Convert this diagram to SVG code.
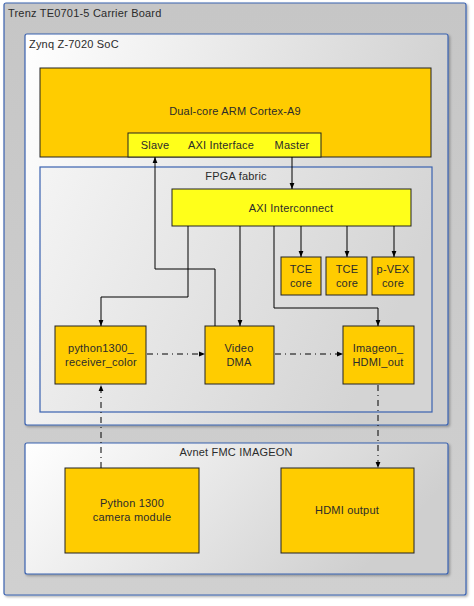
<svg xmlns="http://www.w3.org/2000/svg" width="474" height="606" viewBox="0 0 474 606">
<defs>
<linearGradient id="gBoard" x1="0" y1="0" x2="0" y2="1">
<stop offset="0" stop-color="#c6c6c6"/><stop offset="1" stop-color="#d0d0d0"/>
</linearGradient>
<linearGradient id="gInner" x1="0" y1="0" x2="1" y2="0.3">
<stop offset="0" stop-color="#ffffff"/><stop offset="1" stop-color="#cfcfcf"/>
</linearGradient>
<linearGradient id="gFpga" x1="0" y1="0" x2="1" y2="0.3">
<stop offset="0" stop-color="#f4f4f4"/><stop offset="1" stop-color="#d4d4d4"/>
</linearGradient>
<marker id="arr" viewBox="0 0 10 10" refX="10" refY="5" markerWidth="6" markerHeight="6" orient="auto" markerUnits="userSpaceOnUse">
<path d="M0,1 L10,5 L0,9 Z" fill="#000"/>
</marker>
<filter id="sh" x="-5%" y="-5%" width="110%" height="110%">
<feDropShadow dx="1.5" dy="1.5" stdDeviation="1.2" flood-color="#000" flood-opacity="0.3"/>
</filter>
</defs>
<style>
text{font-family:"Liberation Sans",Arial,sans-serif;font-size:11px;letter-spacing:0.2px;fill:#2b2b2b}
.c{text-anchor:middle}
.cont{stroke:#3a62b0;stroke-width:1.2}
.org{fill:#ffcc00;stroke:#222;stroke-width:1}
.yel{fill:#ffff1a;stroke:#222;stroke-width:1}
.ln{fill:none;stroke:#000;stroke-width:1}
.dd{fill:none;stroke:#000;stroke-width:1;stroke-dasharray:6 4 1 4}
</style>
<rect width="474" height="606" fill="#ffffff"/>
<g id="board">
<rect x="4" y="3" width="462" height="592" rx="2" fill="url(#gBoard)" class="cont" filter="url(#sh)"/>
<text x="8" y="17">Trenz TE0701-5 Carrier Board</text>
</g>
<g id="zynq">
<rect x="25" y="34" width="423" height="391" rx="2" fill="url(#gInner)" class="cont" filter="url(#sh)"/>
<text x="29" y="48">Zynq Z-7020 SoC</text>
</g>
<g id="arm">
<rect x="40" y="68" width="391" height="89" class="org"/>
<text x="235" y="115" class="c">Dual-core ARM Cortex-A9</text>
</g>
<g id="axi-if">
<rect x="128" y="133" width="193" height="24" class="yel"/>
<text x="155" y="149" class="c">Slave</text>
<text x="221" y="149" class="c">AXI Interface</text>
<text x="292" y="149" class="c">Master</text>
</g>
<g id="fpga">
<rect x="40" y="167" width="392" height="245" fill="url(#gFpga)" class="cont"/>
<text x="236" y="180" class="c">FPGA fabric</text>
</g>
<g id="axi-ic">
<rect x="172" y="189" width="239" height="37" class="yel"/>
<text x="291" y="212" class="c">AXI Interconnect</text>
</g>
<g id="tce1">
<rect x="281" y="257" width="40" height="38" class="org"/>
<text x="301" y="273" class="c">TCE</text><text x="301" y="287" class="c">core</text>
</g>
<g id="tce2">
<rect x="326" y="257" width="41" height="38" class="org"/>
<text x="347" y="273" class="c">TCE</text><text x="347" y="287" class="c">core</text>
</g>
<g id="pvex">
<rect x="372" y="257" width="42" height="38" class="org"/>
<text x="393" y="273" class="c">p-VEX</text><text x="393" y="287" class="c">core</text>
</g>
<g id="python-rx">
<rect x="55" y="326" width="91" height="58" class="org"/>
<text x="101" y="352" class="c">python1300_</text><text x="101" y="366" class="c">receiver_color</text>
</g>
<g id="vdma">
<rect x="205" y="326" width="69" height="58" class="org"/>
<text x="239" y="352" class="c">Video</text><text x="239" y="366" class="c">DMA</text>
</g>
<g id="imageon">
<rect x="343" y="326" width="71" height="58" class="org"/>
<text x="378" y="352" class="c">Imageon_</text><text x="378" y="366" class="c">HDMI_out</text>
</g>
<g id="avnet">
<rect x="25" y="443" width="423" height="131" rx="2" fill="url(#gInner)" class="cont" filter="url(#sh)"/>
<text x="236" y="456" class="c">Avnet FMC IMAGEON</text>
</g>
<g id="camera">
<rect x="65" y="468" width="134" height="85" class="org"/>
<text x="132" y="507" class="c">Python 1300</text><text x="132" y="521" class="c">camera module</text>
</g>
<g id="hdmi">
<rect x="281" y="468" width="133" height="85" class="org"/>
<text x="347" y="514" class="c">HDMI output</text>
</g>
<g id="connectors">
<path d="M292,157 V189" class="ln" marker-end="url(#arr)"/>
<path d="M215,326 V269 H155 V157" class="ln" marker-end="url(#arr)"/>
<path d="M188,226 V297 H101 V326" class="ln" marker-end="url(#arr)"/>
<path d="M240,226 V326" class="ln" marker-end="url(#arr)"/>
<path d="M274,226 V308 H378 V326" class="ln" marker-end="url(#arr)"/>
<path d="M301,226 V257" class="ln" marker-end="url(#arr)"/>
<path d="M347,226 V257" class="ln" marker-end="url(#arr)"/>
<path d="M394,226 V257" class="ln" marker-end="url(#arr)"/>
<path d="M147,354 H205" class="dd" marker-end="url(#arr)"/>
<path d="M275,354 H343" class="dd" marker-end="url(#arr)"/>
<path d="M101,468 V385" class="dd" marker-end="url(#arr)"/>
<path d="M378,385 V468" class="dd" marker-end="url(#arr)"/>
</g>
</svg>
